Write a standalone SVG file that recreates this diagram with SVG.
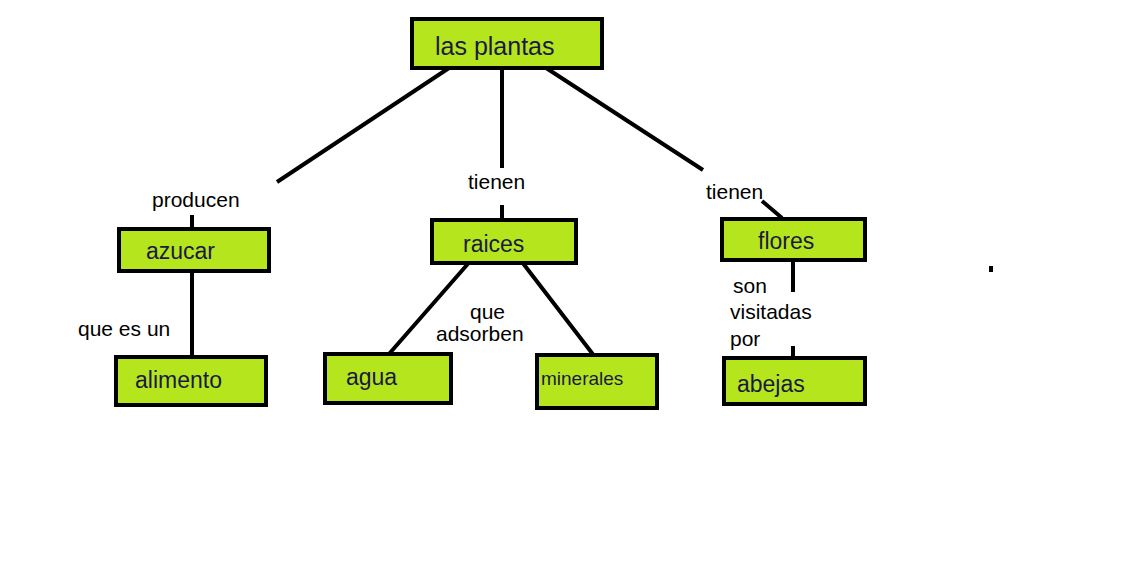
<svg xmlns="http://www.w3.org/2000/svg" width="1140" height="572" viewBox="0 0 1140 572">
<style>
.b{fill:#b5e61d;stroke:#000;stroke-width:4}
.t{font-family:"Liberation Sans",Arial,sans-serif;fill:#1a1a40}
.l{font-family:"Liberation Sans",Arial,sans-serif;fill:#000;font-size:21px}
.c{stroke:#000;stroke-width:4;fill:none}
</style>
<rect width="1140" height="572" fill="#fff"/>
<g id="connectors">
<path class="c" d="M452,66L277,182M502,60V168M502,205V220M540,64L703,170M762,201L782,218M192,215V229M192,271V366M473,258L389,354M522,262L595,357M793,260V292M793,346V357"/>
<rect x="989" y="266" width="4" height="6" fill="#000"/>
</g>
<g id="n-plantas"><rect class="b" x="412" y="19" width="190" height="49"/><text class="t" x="435" y="55" font-size="25">las plantas</text></g>
<g id="n-azucar"><rect class="b" x="119" y="229" width="150" height="42"/><text class="t" x="146" y="259" font-size="23">azucar</text></g>
<g id="n-alimento"><rect class="b" x="116" y="357" width="150" height="48"/><text class="t" x="135" y="388" font-size="23">alimento</text></g>
<g id="n-raices"><rect class="b" x="432" y="220" width="144" height="43"/><text class="t" x="463" y="252" font-size="23">raices</text></g>
<g id="n-agua"><rect class="b" x="325" y="354" width="126" height="49"/><text class="t" x="346" y="385" font-size="23">agua</text></g>
<g id="n-minerales"><rect class="b" x="537" y="355" width="120" height="53"/><text class="t" x="541" y="385" font-size="19">minerales</text></g>
<g id="n-flores"><rect class="b" x="722" y="219" width="143" height="41"/><text class="t" x="758" y="249" font-size="23">flores</text></g>
<g id="n-abejas"><rect class="b" x="724" y="358" width="141" height="46"/><text class="t" x="737" y="392" font-size="23">abejas</text></g>
<g id="labels">
<text class="l" x="152" y="207" font-size="17">producen</text>
<text class="l" x="468" y="189">tienen</text>
<text class="l" x="706" y="199">tienen</text>
<text class="l" x="78" y="336">que es un</text>
<text class="l" x="470" y="319">que</text>
<text class="l" x="436" y="341">adsorben</text>
<text class="l" x="733" y="293">son</text>
<text class="l" x="730" y="319">visitadas</text>
<text class="l" x="730" y="346">por</text>
</g>
</svg>
